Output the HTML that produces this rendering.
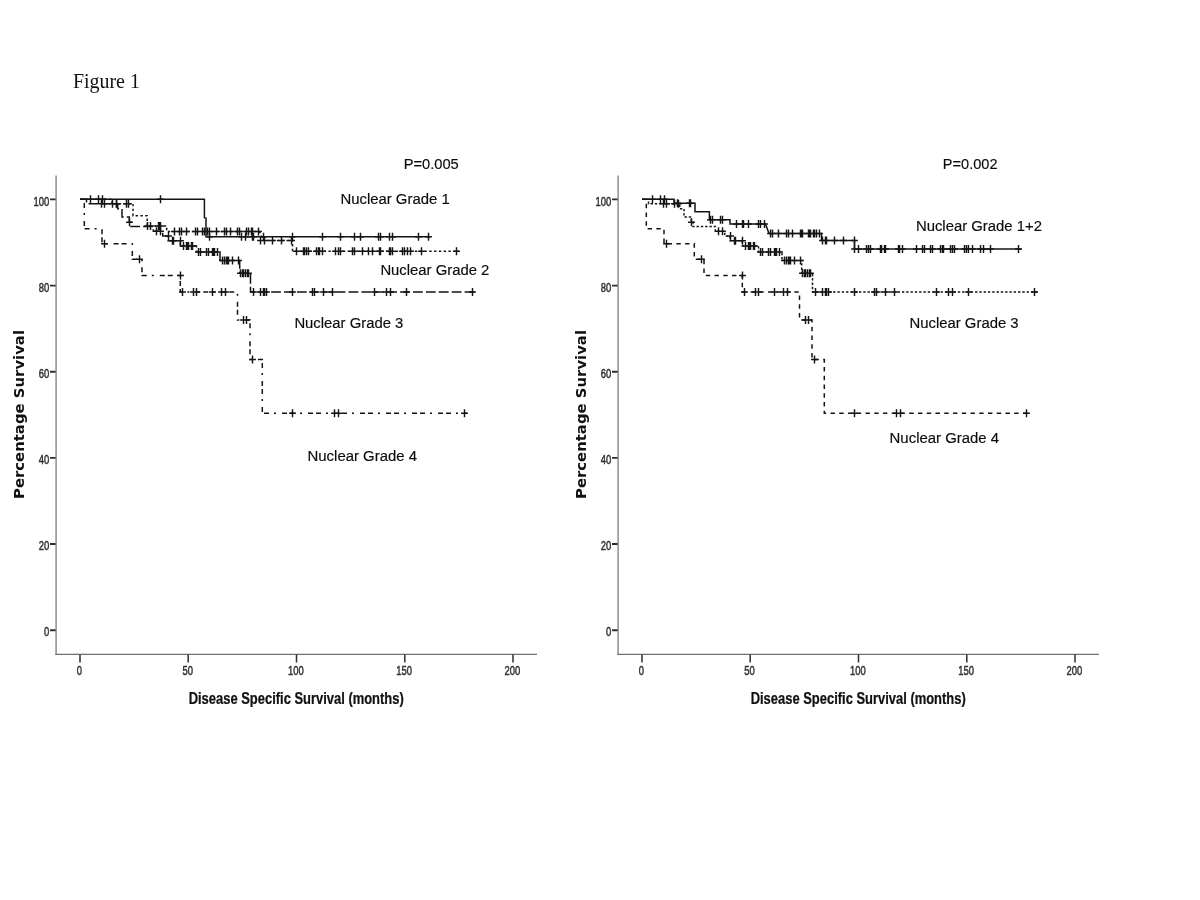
<!DOCTYPE html>
<html lang="en">
<head>
<meta charset="utf-8">
<title>Figure 1</title>
<style>
html,body{margin:0;padding:0;background:#fff;}
body{width:1200px;height:900px;overflow:hidden;position:relative;}
svg{position:absolute;left:0;top:0;display:block;}
.fig{font-family:"Liberation Serif","DejaVu Serif",serif;font-size:19.9px;fill:#111;}
.tk{font-family:"Liberation Sans","DejaVu Sans",sans-serif;font-size:13.4px;fill:#303030;stroke:#303030;stroke-width:0.5px;}
.xt{font-family:"Liberation Sans","DejaVu Sans",sans-serif;font-size:15.6px;font-weight:bold;fill:#111;stroke:#111;stroke-width:0.25px;}
.yt{font-family:"DejaVu Sans","Liberation Sans",sans-serif;font-size:13.9px;font-weight:bold;fill:#111;}
.lb{font-family:"Liberation Sans","DejaVu Sans",sans-serif;font-size:14.9px;fill:#0c0c0c;stroke:#0c0c0c;stroke-width:0.15px;}
</style>
</head>
<body>
<svg width="1200" height="900" viewBox="0 0 1200 900">
<rect x="0" y="0" width="1200" height="900" fill="#ffffff"/>
<text x="73.0" y="88.0" class="fig">Figure 1</text>
<g id="axes">
<path d="M56.1,175.4V654.9" fill="none" stroke="#959595" stroke-width="1.6"/>
<path d="M55.3,654.35H537.0" fill="none" stroke="#727272" stroke-width="1.25"/>
<path d="M50.0,630.2H55.6M50.0,544.0H55.6M50.0,457.9H55.6M50.0,371.7H55.6M50.0,285.6H55.6M50.0,199.4H55.6" fill="none" stroke="#2e2e2e" stroke-width="1.9"/>
<path d="M80.0,654.6V662.6M188.2,654.6V662.6M296.5,654.6V662.6M404.8,654.6V662.6M513.0,654.6V662.6" fill="none" stroke="#2e2e2e" stroke-width="1.5"/>
<path d="M618.1,175.4V654.9" fill="none" stroke="#959595" stroke-width="1.6"/>
<path d="M617.3,654.35H1099.0" fill="none" stroke="#727272" stroke-width="1.25"/>
<path d="M612.0,630.2H617.6M612.0,544.0H617.6M612.0,457.9H617.6M612.0,371.7H617.6M612.0,285.6H617.6M612.0,199.4H617.6" fill="none" stroke="#2e2e2e" stroke-width="1.9"/>
<path d="M642.0,654.6V662.6M750.2,654.6V662.6M858.5,654.6V662.6M966.8,654.6V662.6M1075.0,654.6V662.6" fill="none" stroke="#2e2e2e" stroke-width="1.5"/>
</g>
<g id="curves" stroke-linecap="butt" stroke-linejoin="miter">
<path d="M80.0,199.3H204.4V217.7L206.0,218.0V236.8H430.5" fill="none" stroke="#141414" stroke-width="1.5"/>
<path d="M90.5,195.3V203.3M87.1,199.3H93.9M98.5,195.3V203.3M95.1,199.3H101.9M102.5,195.3V203.3M99.1,199.3H105.9M160.5,195.3V203.3M157.1,199.3H163.9M209.5,232.8V240.8M206.1,236.8H212.9M241.5,232.8V240.8M238.1,236.8H244.9M245.5,232.8V240.8M242.1,236.8H248.9M252.5,232.8V240.8M249.1,236.8H255.9M253.5,232.8V240.8M250.1,236.8H256.9M263.5,232.8V240.8M260.1,236.8H266.9M292.5,232.8V240.8M289.1,236.8H295.9M322.5,232.8V240.8M319.1,236.8H325.9M340.5,232.8V240.8M337.1,236.8H343.9M354.5,232.8V240.8M351.1,236.8H357.9M360.5,232.8V240.8M357.1,236.8H363.9M378.5,232.8V240.8M375.1,236.8H381.9M380.5,232.8V240.8M377.1,236.8H383.9M389.5,232.8V240.8M386.1,236.8H392.9M392.5,232.8V240.8M389.1,236.8H395.9M418.5,232.8V240.8M415.1,236.8H421.9M428.5,232.8V240.8M425.1,236.8H431.9" fill="none" stroke="#141414" stroke-width="1.45"/>
<path d="M80.0,199.3H112.0V203.7H133.0V215.7H147.2V226.0H166.7V231.5H259.5L263.0,240.5H292.5V251.3H459.0" fill="none" stroke="#141414" stroke-width="1.5" stroke-dasharray="2.4 2.4"/>
<path d="M116.5,199.7V207.7M113.1,203.7H119.9M126.5,199.7V207.7M123.1,203.7H129.9M128.5,199.7V207.7M125.1,203.7H131.9M147.5,222.0V230.0M144.1,226.0H150.9M150.5,222.0V230.0M147.1,226.0H153.9M158.5,222.0V230.0M155.1,226.0H161.9M159.5,222.0V230.0M156.1,226.0H162.9M160.5,222.0V230.0M157.1,226.0H163.9M174.5,227.5V235.5M171.1,231.5H177.9M179.5,227.5V235.5M176.1,231.5H182.9M181.5,227.5V235.5M178.1,231.5H184.9M186.5,227.5V235.5M183.1,231.5H189.9M195.5,227.5V235.5M192.1,231.5H198.9M197.5,227.5V235.5M194.1,231.5H200.9M202.5,227.5V235.5M199.1,231.5H205.9M204.5,227.5V235.5M201.1,231.5H207.9M207.5,227.5V235.5M204.1,231.5H210.9M209.5,227.5V235.5M206.1,231.5H212.9M216.5,227.5V235.5M213.1,231.5H219.9M224.5,227.5V235.5M221.1,231.5H227.9M226.5,227.5V235.5M223.1,231.5H229.9M230.5,227.5V235.5M227.1,231.5H233.9M237.5,227.5V235.5M234.1,231.5H240.9M239.5,227.5V235.5M236.1,231.5H242.9M246.5,227.5V235.5M243.1,231.5H249.9M248.5,227.5V235.5M245.1,231.5H251.9M251.5,227.5V235.5M248.1,231.5H254.9M252.5,227.5V235.5M249.1,231.5H255.9M258.5,227.5V235.5M255.1,231.5H261.9M260.5,236.5V244.5M257.1,240.5H263.9M264.5,236.5V244.5M261.1,240.5H267.9M264.5,236.5V244.5M261.1,240.5H267.9M272.5,236.5V244.5M269.1,240.5H275.9M281.5,236.5V244.5M278.1,240.5H284.9M291.5,236.5V244.5M288.1,240.5H294.9M296.5,247.3V255.3M293.1,251.3H299.9M303.5,247.3V255.3M300.1,251.3H306.9M304.5,247.3V255.3M301.1,251.3H307.9M306.5,247.3V255.3M303.1,251.3H309.9M308.5,247.3V255.3M305.1,251.3H311.9M316.5,247.3V255.3M313.1,251.3H319.9M318.5,247.3V255.3M315.1,251.3H321.9M319.5,247.3V255.3M316.1,251.3H322.9M322.5,247.3V255.3M319.1,251.3H325.9M322.5,247.3V255.3M319.1,251.3H325.9M335.5,247.3V255.3M332.1,251.3H338.9M338.5,247.3V255.3M335.1,251.3H341.9M338.5,247.3V255.3M335.1,251.3H341.9M340.5,247.3V255.3M337.1,251.3H343.9M352.5,247.3V255.3M349.1,251.3H355.9M354.5,247.3V255.3M351.1,251.3H357.9M362.5,247.3V255.3M359.1,251.3H365.9M368.5,247.3V255.3M365.1,251.3H371.9M372.5,247.3V255.3M369.1,251.3H375.9M379.5,247.3V255.3M376.1,251.3H382.9M380.5,247.3V255.3M377.1,251.3H383.9M389.5,247.3V255.3M386.1,251.3H392.9M390.5,247.3V255.3M387.1,251.3H393.9M392.5,247.3V255.3M389.1,251.3H395.9M402.5,247.3V255.3M399.1,251.3H405.9M404.5,247.3V255.3M401.1,251.3H407.9M404.5,247.3V255.3M401.1,251.3H407.9M407.5,247.3V255.3M404.1,251.3H410.9M410.5,247.3V255.3M407.1,251.3H413.9M421.5,247.3V255.3M418.1,251.3H424.9M456.5,247.3V255.3M453.1,251.3H459.9" fill="none" stroke="#141414" stroke-width="1.45"/>
<path d="M80.0,199.3H86.5V203.7H117.7V208.7H122.0V217.0H129.3V222.3H131.0V226.5H153.3V231.3H162.7V236.0H168.0V240.7H180.3V246.0H196.5V252.0H220.0V260.5H239.7V273.2H250.5V292.0H476.0" fill="none" stroke="#141414" stroke-width="1.5" stroke-dasharray="9.8 3.1"/>
<path d="M101.5,199.7V207.7M98.1,203.7H104.9M104.5,199.7V207.7M101.1,203.7H107.9M112.5,199.7V207.7M109.1,203.7H115.9M116.5,199.7V207.7M113.1,203.7H119.9M129.5,218.3V226.3M126.1,222.3H132.9M156.5,227.3V235.3M153.1,231.3H159.9M160.5,227.3V235.3M157.1,231.3H163.9M168.5,232.0V240.0M165.1,236.0H171.9M172.5,236.7V244.7M169.1,240.7H175.9M173.5,236.7V244.7M170.1,240.7H176.9M180.5,236.7V244.7M177.1,240.7H183.9M183.5,242.0V250.0M180.1,246.0H186.9M186.5,242.0V250.0M183.1,246.0H189.9M187.5,242.0V250.0M184.1,246.0H190.9M188.5,242.0V250.0M185.1,246.0H191.9M191.5,242.0V250.0M188.1,246.0H194.9M192.5,242.0V250.0M189.1,246.0H195.9M198.5,248.0V256.0M195.1,252.0H201.9M200.5,248.0V256.0M197.1,252.0H203.9M206.5,248.0V256.0M203.1,252.0H209.9M206.5,248.0V256.0M203.1,252.0H209.9M208.5,248.0V256.0M205.1,252.0H211.9M212.5,248.0V256.0M209.1,252.0H215.9M213.5,248.0V256.0M210.1,252.0H216.9M214.5,248.0V256.0M211.1,252.0H217.9M217.5,248.0V256.0M214.1,252.0H220.9M222.5,256.5V264.5M219.1,260.5H225.9M224.5,256.5V264.5M221.1,260.5H227.9M226.5,256.5V264.5M223.1,260.5H229.9M227.5,256.5V264.5M224.1,260.5H230.9M228.5,256.5V264.5M225.1,260.5H231.9M232.5,256.5V264.5M229.1,260.5H235.9M238.5,256.5V264.5M235.1,260.5H241.9M240.5,269.2V277.2M237.1,273.2H243.9M242.5,269.2V277.2M239.1,273.2H245.9M243.5,269.2V277.2M240.1,273.2H246.9M245.5,269.2V277.2M242.1,273.2H248.9M247.5,269.2V277.2M244.1,273.2H250.9M248.5,269.2V277.2M245.1,273.2H251.9M253.5,288.0V296.0M250.1,292.0H256.9M260.5,288.0V296.0M257.1,292.0H263.9M263.5,288.0V296.0M260.1,292.0H266.9M264.5,288.0V296.0M261.1,292.0H267.9M266.5,288.0V296.0M263.1,292.0H269.9M292.5,288.0V296.0M289.1,292.0H295.9M312.5,288.0V296.0M309.1,292.0H315.9M314.5,288.0V296.0M311.1,292.0H317.9M323.5,288.0V296.0M320.1,292.0H326.9M332.5,288.0V296.0M329.1,292.0H335.9M374.5,288.0V296.0M371.1,292.0H377.9M386.5,288.0V296.0M383.1,292.0H389.9M390.5,288.0V296.0M387.1,292.0H393.9M406.5,288.0V296.0M403.1,292.0H409.9M472.5,288.0V296.0M469.1,292.0H475.9" fill="none" stroke="#141414" stroke-width="1.45"/>
<path d="M80.0,199.3H84.3V228.7H102.0V243.7H132.3V259.3H142.0V275.5H180.3V292.0H237.5V320.0H250.0V359.4H262.3V413.3H467.0" fill="none" stroke="#141414" stroke-width="1.5" stroke-dasharray="5 3 5 5 2 6"/>
<path d="M104.5,239.7V247.7M101.1,243.7H107.9M139.5,255.3V263.3M136.1,259.3H142.9M180.5,271.5V279.5M177.1,275.5H183.9M182.5,288.0V296.0M179.1,292.0H185.9M193.5,288.0V296.0M190.1,292.0H196.9M196.5,288.0V296.0M193.1,292.0H199.9M212.5,288.0V296.0M209.1,292.0H215.9M221.5,288.0V296.0M218.1,292.0H224.9M225.5,288.0V296.0M222.1,292.0H228.9M243.5,316.0V324.0M240.1,320.0H246.9M246.5,316.0V324.0M243.1,320.0H249.9M252.5,355.4V363.4M249.1,359.4H255.9M292.5,409.3V417.3M289.1,413.3H295.9M334.5,409.3V417.3M331.1,413.3H337.9M338.5,409.3V417.3M335.1,413.3H341.9M464.5,409.3V417.3M461.1,413.3H467.9" fill="none" stroke="#141414" stroke-width="1.45"/>
<path d="M642.0,199.3H674.0V203.3H695.0V211.7H709.4V219.7H730.0V224.0H765.5L769.0,233.5H821.5V240.5H854.5V249.0H1021.5" fill="none" stroke="#141414" stroke-width="1.5"/>
<path d="M652.5,195.3V203.3M649.1,199.3H655.9M660.5,195.3V203.3M657.1,199.3H663.9M664.5,195.3V203.3M661.1,199.3H667.9M677.5,199.3V207.3M674.1,203.3H680.9M689.5,199.3V207.3M686.1,203.3H692.9M690.5,199.3V207.3M687.1,203.3H693.9M710.5,215.7V223.7M707.1,219.7H713.9M712.5,215.7V223.7M709.1,219.7H715.9M720.5,215.7V223.7M717.1,219.7H723.9M722.5,215.7V223.7M719.1,219.7H725.9M736.5,220.0V228.0M733.1,224.0H739.9M742.5,220.0V228.0M739.1,224.0H745.9M743.5,220.0V228.0M740.1,224.0H746.9M748.5,220.0V228.0M745.1,224.0H751.9M758.5,220.0V228.0M755.1,224.0H761.9M760.5,220.0V228.0M757.1,224.0H763.9M764.5,220.0V228.0M761.1,224.0H767.9M770.5,229.5V237.5M767.1,233.5H773.9M772.5,229.5V237.5M769.1,233.5H775.9M778.5,229.5V237.5M775.1,233.5H781.9M786.5,229.5V237.5M783.1,233.5H789.9M788.5,229.5V237.5M785.1,233.5H791.9M792.5,229.5V237.5M789.1,233.5H795.9M800.5,229.5V237.5M797.1,233.5H803.9M801.5,229.5V237.5M798.1,233.5H804.9M802.5,229.5V237.5M799.1,233.5H805.9M808.5,229.5V237.5M805.1,233.5H811.9M809.5,229.5V237.5M806.1,233.5H812.9M810.5,229.5V237.5M807.1,233.5H813.9M813.5,229.5V237.5M810.1,233.5H816.9M814.5,229.5V237.5M811.1,233.5H817.9M816.5,229.5V237.5M813.1,233.5H819.9M819.5,229.5V237.5M816.1,233.5H822.9M822.5,236.5V244.5M819.1,240.5H825.9M825.5,236.5V244.5M822.1,240.5H828.9M826.5,236.5V244.5M823.1,240.5H829.9M834.5,236.5V244.5M831.1,240.5H837.9M843.5,236.5V244.5M840.1,240.5H846.9M854.5,236.5V244.5M851.1,240.5H857.9M854.5,245.0V253.0M851.1,249.0H857.9M858.5,245.0V253.0M855.1,249.0H861.9M866.5,245.0V253.0M863.1,249.0H869.9M868.5,245.0V253.0M865.1,249.0H871.9M870.5,245.0V253.0M867.1,249.0H873.9M880.5,245.0V253.0M877.1,249.0H883.9M881.5,245.0V253.0M878.1,249.0H884.9M884.5,245.0V253.0M881.1,249.0H887.9M885.5,245.0V253.0M882.1,249.0H888.9M898.5,245.0V253.0M895.1,249.0H901.9M899.5,245.0V253.0M896.1,249.0H902.9M902.5,245.0V253.0M899.1,249.0H905.9M916.5,245.0V253.0M913.1,249.0H919.9M922.5,245.0V253.0M919.1,249.0H925.9M924.5,245.0V253.0M921.1,249.0H927.9M930.5,245.0V253.0M927.1,249.0H933.9M932.5,245.0V253.0M929.1,249.0H935.9M940.5,245.0V253.0M937.1,249.0H943.9M942.5,245.0V253.0M939.1,249.0H945.9M943.5,245.0V253.0M940.1,249.0H946.9M950.5,245.0V253.0M947.1,249.0H953.9M952.5,245.0V253.0M949.1,249.0H955.9M954.5,245.0V253.0M951.1,249.0H957.9M964.5,245.0V253.0M961.1,249.0H967.9M966.5,245.0V253.0M963.1,249.0H969.9M968.5,245.0V253.0M965.1,249.0H971.9M972.5,245.0V253.0M969.1,249.0H975.9M980.5,245.0V253.0M977.1,249.0H983.9M983.5,245.0V253.0M980.1,249.0H986.9M990.5,245.0V253.0M987.1,249.0H993.9M1018.5,245.0V253.0M1015.1,249.0H1021.9" fill="none" stroke="#141414" stroke-width="1.45"/>
<path d="M642.0,199.3H648.5V203.7H679.7V208.7H684.0V217.0H691.3V222.3H693.0V226.5H715.3V231.3H724.7V236.0H730.0V240.7H742.3V246.0H758.5V252.0H782.0V260.5H801.7V273.2H812.5V292.0H1038.0" fill="none" stroke="#141414" stroke-width="1.5" stroke-dasharray="2.4 1.9"/>
<path d="M663.5,199.7V207.7M660.1,203.7H666.9M666.5,199.7V207.7M663.1,203.7H669.9M674.5,199.7V207.7M671.1,203.7H677.9M678.5,199.7V207.7M675.1,203.7H681.9M691.5,218.3V226.3M688.1,222.3H694.9M718.5,227.3V235.3M715.1,231.3H721.9M722.5,227.3V235.3M719.1,231.3H725.9M730.5,232.0V240.0M727.1,236.0H733.9M734.5,236.7V244.7M731.1,240.7H737.9M735.5,236.7V244.7M732.1,240.7H738.9M742.5,236.7V244.7M739.1,240.7H745.9M745.5,242.0V250.0M742.1,246.0H748.9M748.5,242.0V250.0M745.1,246.0H751.9M749.5,242.0V250.0M746.1,246.0H752.9M750.5,242.0V250.0M747.1,246.0H753.9M753.5,242.0V250.0M750.1,246.0H756.9M754.5,242.0V250.0M751.1,246.0H757.9M760.5,248.0V256.0M757.1,252.0H763.9M762.5,248.0V256.0M759.1,252.0H765.9M768.5,248.0V256.0M765.1,252.0H771.9M768.5,248.0V256.0M765.1,252.0H771.9M770.5,248.0V256.0M767.1,252.0H773.9M774.5,248.0V256.0M771.1,252.0H777.9M775.5,248.0V256.0M772.1,252.0H778.9M776.5,248.0V256.0M773.1,252.0H779.9M779.5,248.0V256.0M776.1,252.0H782.9M784.5,256.5V264.5M781.1,260.5H787.9M786.5,256.5V264.5M783.1,260.5H789.9M788.5,256.5V264.5M785.1,260.5H791.9M789.5,256.5V264.5M786.1,260.5H792.9M790.5,256.5V264.5M787.1,260.5H793.9M794.5,256.5V264.5M791.1,260.5H797.9M800.5,256.5V264.5M797.1,260.5H803.9M802.5,269.2V277.2M799.1,273.2H805.9M804.5,269.2V277.2M801.1,273.2H807.9M805.5,269.2V277.2M802.1,273.2H808.9M807.5,269.2V277.2M804.1,273.2H810.9M809.5,269.2V277.2M806.1,273.2H812.9M810.5,269.2V277.2M807.1,273.2H813.9M815.5,288.0V296.0M812.1,292.0H818.9M822.5,288.0V296.0M819.1,292.0H825.9M825.5,288.0V296.0M822.1,292.0H828.9M826.5,288.0V296.0M823.1,292.0H829.9M828.5,288.0V296.0M825.1,292.0H831.9M854.5,288.0V296.0M851.1,292.0H857.9M874.5,288.0V296.0M871.1,292.0H877.9M876.5,288.0V296.0M873.1,292.0H879.9M885.5,288.0V296.0M882.1,292.0H888.9M894.5,288.0V296.0M891.1,292.0H897.9M936.5,288.0V296.0M933.1,292.0H939.9M948.5,288.0V296.0M945.1,292.0H951.9M952.5,288.0V296.0M949.1,292.0H955.9M968.5,288.0V296.0M965.1,292.0H971.9M1034.5,288.0V296.0M1031.1,292.0H1037.9" fill="none" stroke="#141414" stroke-width="1.45"/>
<path d="M642.0,199.3H646.3V228.7H664.0V243.7H694.3V259.3H704.0V275.5H742.3V292.0H799.5V320.0H812.0V359.4H824.3V413.3H1029.0" fill="none" stroke="#141414" stroke-width="1.5" stroke-dasharray="4.4 4.35"/>
<path d="M666.5,239.7V247.7M663.1,243.7H669.9M701.5,255.3V263.3M698.1,259.3H704.9M742.5,271.5V279.5M739.1,275.5H745.9M744.5,288.0V296.0M741.1,292.0H747.9M755.5,288.0V296.0M752.1,292.0H758.9M758.5,288.0V296.0M755.1,292.0H761.9M774.5,288.0V296.0M771.1,292.0H777.9M783.5,288.0V296.0M780.1,292.0H786.9M787.5,288.0V296.0M784.1,292.0H790.9M805.5,316.0V324.0M802.1,320.0H808.9M808.5,316.0V324.0M805.1,320.0H811.9M814.5,355.4V363.4M811.1,359.4H817.9M854.5,409.3V417.3M851.1,413.3H857.9M896.5,409.3V417.3M893.1,413.3H899.9M900.5,409.3V417.3M897.1,413.3H903.9M1026.5,409.3V417.3M1023.1,413.3H1029.9" fill="none" stroke="#141414" stroke-width="1.45"/>
</g>
<g id="labels">
<text transform="translate(49.3,636.4) scale(0.705,1)" text-anchor="end" class="tk">0</text>
<text transform="translate(49.3,550.2) scale(0.705,1)" text-anchor="end" class="tk">20</text>
<text transform="translate(49.3,464.1) scale(0.705,1)" text-anchor="end" class="tk">40</text>
<text transform="translate(49.3,377.9) scale(0.705,1)" text-anchor="end" class="tk">60</text>
<text transform="translate(49.3,291.8) scale(0.705,1)" text-anchor="end" class="tk">80</text>
<text transform="translate(49.3,205.6) scale(0.705,1)" text-anchor="end" class="tk">100</text>
<text transform="translate(79.4,675.0) scale(0.705,1)" text-anchor="middle" class="tk">0</text>
<text transform="translate(187.7,675.0) scale(0.705,1)" text-anchor="middle" class="tk">50</text>
<text transform="translate(295.9,675.0) scale(0.705,1)" text-anchor="middle" class="tk">100</text>
<text transform="translate(404.1,675.0) scale(0.705,1)" text-anchor="middle" class="tk">150</text>
<text transform="translate(512.4,675.0) scale(0.705,1)" text-anchor="middle" class="tk">200</text>
<text transform="translate(296.2,703.6) scale(0.83,1)" text-anchor="middle" class="xt">Disease Specific Survival (months)</text>
<text transform="translate(24.1,414.5) rotate(-90)" text-anchor="middle" class="yt" textLength="169" lengthAdjust="spacingAndGlyphs">Percentage Survival</text>
<text transform="translate(611.3,636.4) scale(0.705,1)" text-anchor="end" class="tk">0</text>
<text transform="translate(611.3,550.2) scale(0.705,1)" text-anchor="end" class="tk">20</text>
<text transform="translate(611.3,464.1) scale(0.705,1)" text-anchor="end" class="tk">40</text>
<text transform="translate(611.3,377.9) scale(0.705,1)" text-anchor="end" class="tk">60</text>
<text transform="translate(611.3,291.8) scale(0.705,1)" text-anchor="end" class="tk">80</text>
<text transform="translate(611.3,205.6) scale(0.705,1)" text-anchor="end" class="tk">100</text>
<text transform="translate(641.4,675.0) scale(0.705,1)" text-anchor="middle" class="tk">0</text>
<text transform="translate(749.6,675.0) scale(0.705,1)" text-anchor="middle" class="tk">50</text>
<text transform="translate(857.9,675.0) scale(0.705,1)" text-anchor="middle" class="tk">100</text>
<text transform="translate(966.1,675.0) scale(0.705,1)" text-anchor="middle" class="tk">150</text>
<text transform="translate(1074.4,675.0) scale(0.705,1)" text-anchor="middle" class="tk">200</text>
<text transform="translate(858.2,703.6) scale(0.83,1)" text-anchor="middle" class="xt">Disease Specific Survival (months)</text>
<text transform="translate(586.1,414.5) rotate(-90)" text-anchor="middle" class="yt" textLength="169" lengthAdjust="spacingAndGlyphs">Percentage Survival</text>
<text x="403.7" y="168.8" class="lb" textLength="55.1" lengthAdjust="spacingAndGlyphs">P=0.005</text>
<text x="340.4" y="203.9" class="lb" textLength="109.3" lengthAdjust="spacingAndGlyphs">Nuclear Grade 1</text>
<text x="380.4" y="274.6" class="lb" textLength="108.9" lengthAdjust="spacingAndGlyphs">Nuclear Grade 2</text>
<text x="294.4" y="327.7" class="lb" textLength="108.9" lengthAdjust="spacingAndGlyphs">Nuclear Grade 3</text>
<text x="307.5" y="460.8" class="lb" textLength="109.6" lengthAdjust="spacingAndGlyphs">Nuclear Grade 4</text>
<text x="942.8" y="168.8" class="lb" textLength="54.7" lengthAdjust="spacingAndGlyphs">P=0.002</text>
<text x="915.9" y="230.6" class="lb" textLength="126.1" lengthAdjust="spacingAndGlyphs">Nuclear Grade 1+2</text>
<text x="909.5" y="327.7" class="lb" textLength="109.1" lengthAdjust="spacingAndGlyphs">Nuclear Grade 3</text>
<text x="889.6" y="442.8" class="lb" textLength="109.5" lengthAdjust="spacingAndGlyphs">Nuclear Grade 4</text>
</g>
</svg>
</body>
</html>
